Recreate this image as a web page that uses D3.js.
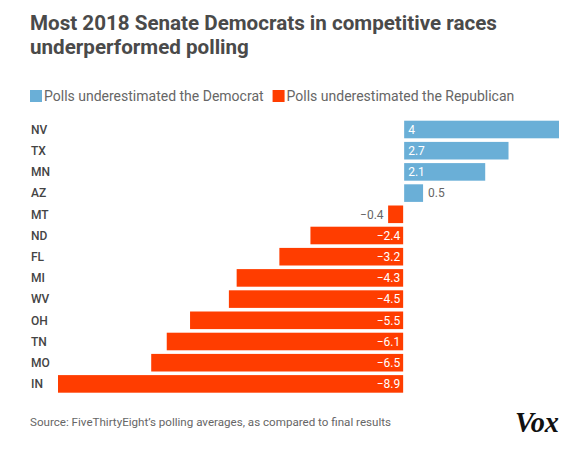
<!DOCTYPE html>
<html>
<head>
<meta charset="utf-8">
<script src="https://cdn.jsdelivr.net/npm/d3@7"></script>
<style>
  body { margin: 0; background: #fff; }
  text { font-family: Roboto, "Liberation Sans", sans-serif; }
</style>
</head>
<body>
<svg id="chart" width="588" height="453"></svg>
<script>
// chart data
const states = ['NV', 'TX', 'MN', 'AZ', 'MT', 'ND', 'FL', 'MI', 'WV', 'OH', 'TN', 'MO', 'IN'];
const errors = [4, 2.7, 2.1, 0.5, -0.4, -2.4, -3.2, -4.3, -4.5, -5.5, -6.1, -6.5, -8.9];
const legendLabels = ['Polls underestimated the Democrat', 'Polls underestimated the Republican'];

const BLUE = '#6aafd7';
const RED = '#ff3d00';

const svg = d3.select('#chart');

// title
const title = svg.append('text')
    .attr('x', 30)
    .attr('y', 30)
    .attr('fill', '#4a4a4a')
    .style('font-size', '20.6px')
    .style('font-weight', 700);
title.append('tspan').attr('x', 30).text('Most 2018 Senate Democrats in competitive races');
title.append('tspan').attr('x', 30).attr('dy', 24).text('underperformed polling');

// legend
let lx = 30;
legendLabels.forEach((label, i) => {
    svg.append('rect')
        .attr('x', lx).attr('y', 90)
        .attr('width', 12).attr('height', 12)
        .attr('fill', i === 0 ? BLUE : RED);
    const t = svg.append('text')
        .attr('x', lx + 14).attr('y', 101)
        .attr('fill', '#666')
        .style('font-size', '14px')
        .text(label);
    lx += 14 + t.node().getComputedTextLength() + 9;
});

// scales
const x = d3.scaleLinear()
    .domain([d3.min(errors), d3.max(errors)])
    .range([58, 559]);

const y = d3.scaleBand()
    .domain(states)
    .range([120.7, 392.7])
    .paddingInner(0.17)
    .paddingOuter(0);

const data = states.map((s, i) => ({ state: s, value: errors[i] }));

// state labels
svg.append('g')
    .selectAll('text')
    .data(data)
    .join('text')
    .attr('x', 31)
    .attr('y', d => y(d.state) + y.bandwidth() / 2)
    .attr('dy', '0.36em')
    .attr('fill', '#444')
    .style('font-size', '12px')
    .style('font-weight', 500)
    .text(d => d.state);

// bars
svg.append('g')
    .selectAll('rect')
    .data(data)
    .join('rect')
    .attr('x', d => d.value >= 0 ? x(0) + 0.5 : x(d.value))
    .attr('y', d => y(d.state))
    .attr('width', d => Math.abs(x(d.value) - x(0)) - 0.5)
    .attr('height', y.bandwidth())
    .attr('fill', d => d.value >= 0 ? BLUE : RED);

// value labels, small bars get the label outside
const fmt = v => (v < 0 ? '\u2212' : '') + Math.abs(v);
svg.append('g')
    .selectAll('text')
    .data(data)
    .join('text')
    .attr('x', d => {
        const small = Math.abs(d.value) < 1;
        if (d.value >= 0) return small ? x(d.value) + 5 : x(0) + 4.5;
        return small ? x(d.value) - 4.5 : x(0) - 3.5;
    })
    .attr('y', d => y(d.state) + y.bandwidth() / 2)
    .attr('dy', '0.36em')
    .attr('text-anchor', d => d.value >= 0 ? 'start' : 'end')
    .attr('fill', d => Math.abs(d.value) < 1 ? '#666' : '#fff')
    .style('font-size', '12px')
    .text(d => fmt(d.value));

// source
svg.append('text')
    .attr('x', 30)
    .attr('y', 426)
    .attr('fill', '#666')
    .style('font-size', '11.6px')
    .text('Source: FiveThirtyEight\u2019s polling averages, as compared to final results');

// logo
svg.append('text')
    .attr('x', 515)
    .attr('y', 432)
    .attr('fill', '#111')
    .style('font-family', '"Liberation Serif", "DejaVu Serif", serif')
    .style('font-size', '30px')
    .style('font-weight', 700)
    .style('font-style', 'italic')
    .attr('textLength', 44)
    .attr('lengthAdjust', 'spacingAndGlyphs')
    .text('Vox');
</script>
</body>
</html>
